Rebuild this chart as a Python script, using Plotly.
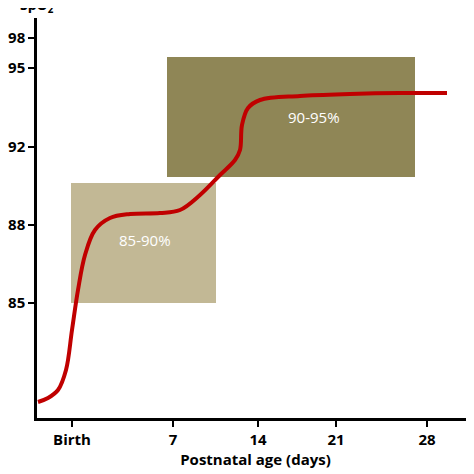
import plotly.graph_objects as go

# axis positions (plot units) and labels
x_tickvals = [35, 136, 221, 299, 390]
x_ticktext = ["Birth", "7", "14", "21", "28"]
y_tickvals = [115, 193, 271, 350, 380]
y_ticktext = ["85", "88", "92", "95", "98"]

# SpO2 curve
curve_x = [1, 11, 21, 29, 35, 41, 48, 58, 73, 93, 123, 143, 163, 183, 198, 203, 205, 211, 223, 263, 313, 363, 410]
curve_y = [16, 20, 28, 48, 88, 128, 163, 188, 200, 204, 205, 208, 223, 243, 258, 268, 293, 310, 318, 322, 324, 325, 325]

# target ranges
boxes = [
    dict(x0=34, x1=179, y0=115, y1=235, color="#c2b895", label="85-90%", lx=108, ly=178),
    dict(x0=130, x1=378, y0=241, y1=361, color="#8f8656", label="90-95%", lx=277, ly=301),
]

fig = go.Figure()
for b in boxes:
    fig.add_shape(type="rect", x0=b["x0"], x1=b["x1"], y0=b["y0"], y1=b["y1"],
                  fillcolor=b["color"], line_width=0, layer="below")
    fig.add_annotation(x=b["lx"], y=b["ly"], text=b["label"], showarrow=False,
                       font=dict(color="white", size=15))

fig.add_trace(go.Scatter(x=curve_x, y=curve_y, mode="lines",
                         line=dict(color="#c00000", width=4, shape="spline"),
                         showlegend=False))

fig.add_annotation(x=0, y=1.0, xref="paper", yref="paper", xanchor="center", yanchor="bottom",
                   text="<b>SpO<sub>2</sub></b>", showarrow=False, font=dict(size=14, color="black"))

fig.update_xaxes(range=[0, 437], tickvals=x_tickvals, ticktext=["<b>%s</b>" % t for t in x_ticktext],
                 showgrid=False, zeroline=False, showline=True, linecolor="black", linewidth=2.5,
                 ticks="outside", ticklen=6, tickwidth=2, tickcolor="black",
                 tickfont=dict(size=15, color="black", family="Open Sans"),
                 title=dict(text="<b>Postnatal age (days)</b>", font=dict(size=15, color="black"), standoff=2))
fig.update_yaxes(range=[0, 400], tickvals=y_tickvals, ticktext=["<b>%s</b>" % t for t in y_ticktext],
                 showgrid=False, zeroline=False, showline=True, linecolor="black", linewidth=2.5,
                 ticks="outside", ticklen=6, tickwidth=2, tickcolor="black",
                 tickfont=dict(size=15, color="black", family="Open Sans"))
fig.update_layout(width=474, height=474, margin=dict(l=29, r=8, t=10, b=64),
                  plot_bgcolor="white", paper_bgcolor="white",
                  font=dict(family="Open Sans"))
fig.update_xaxes(automargin=False)
fig.update_yaxes(automargin=False)
fig.write_html("out.html")
